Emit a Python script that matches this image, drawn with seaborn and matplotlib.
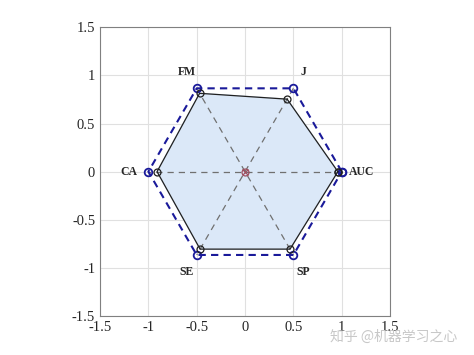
import numpy as np
import pandas as pd
import matplotlib
matplotlib.use('Agg')
import matplotlib.pyplot as plt
import seaborn as sns

# radar data (six metrics on a hexagon)
labels = ['AUC', 'J', 'FM', 'CA', 'SE', 'SP']
angles_deg = [0, 60, 120, 180, 240, 300]
scores = [0.96, 0.87, 0.94, 0.91, 0.93, 0.93]
ideal = [1, 1, 1, 1, 1, 1]

sns.set_style('white')
plt.rcParams['font.family'] = ['Liberation Serif', 'DejaVu Serif']

def to_xy(r):
    a = np.deg2rad(angles_deg)
    x = np.array(r) * np.cos(a)
    y = np.array(r) * np.sin(a)
    # close the polygon
    return np.append(x, x[0]), np.append(y, y[0])

fig = plt.figure(figsize=(4.74, 3.55), dpi=100)
ax = fig.add_axes([0.211, 0.110, 0.612, 0.813])

xs, ys = to_xy(scores)
xi, yi = to_xy(ideal)

ax.fill(xs, ys, color='#dbe8f8', zorder=1)

# spokes through the centre
for k in range(3):
    ax.plot([xi[k], xi[k + 3]], [yi[k], yi[k + 3]], color='#707070', ls=(0, (5, 4)), lw=0.9, zorder=2)

df_s = pd.DataFrame({'x': xs, 'y': ys})
df_i = pd.DataFrame({'x': xi, 'y': yi})
sns.lineplot(data=df_i, x='x', y='y', sort=False, estimator=None, ax=ax, color='#1a1a9a',
             ls=(0, (3.5, 2.5)), lw=1.5, marker='o', markersize=5.5, markerfacecolor='none',
             markeredgecolor='#1a1a9a', markeredgewidth=1.3, zorder=3)
sns.lineplot(data=df_s, x='x', y='y', sort=False, estimator=None, ax=ax, color='#202020',
             lw=0.9, marker='o', markersize=5, markerfacecolor='none',
             markeredgecolor='#202020', markeredgewidth=0.9, zorder=4)

ax.plot(0, 0, marker='o', ms=5, mfc='none', mec='#a05060', mew=0.9, zorder=5)
ax.plot(0, 0, marker='x', ms=5, mec='#a05060', mew=0.9, zorder=5)

for lab, a in zip(labels, angles_deg):
    t = np.deg2rad(a)
    ax.text(1.2 * np.cos(t), 1.2 * np.sin(t), lab, ha='center', va='center',
            fontsize=8.5, fontweight='bold')

ax.set_xlim(-1.5, 1.5)
ax.set_ylim(-1.5, 1.5)
ax.set_xticks(np.arange(-1.5, 1.51, 0.5))
ax.set_yticks(np.arange(-1.5, 1.51, 0.5))
ax.set_xticklabels(['-1.5', '-1', '-0.5', '0', '0.5', '1', '1.5'])
ax.set_yticklabels(['-1.5', '-1', '-0.5', '0', '0.5', '1', '1.5'])
ax.set_xlabel('')
ax.set_ylabel('')
ax.grid(True, color='#e0e0e0', lw=0.8)
ax.set_axisbelow(True)
ax.tick_params(direction='in', length=3, color='#808080', labelsize=10.5, labelcolor='#262626')
for s in ax.spines.values():
    s.set_color('#808080')
    s.set_linewidth(0.8)

fig.text(0.83, 0.052, '知乎 @机器学习之心', fontsize=10, color='#c8c8c8', ha='center', va='center',
         family=['Noto Sans CJK SC', 'DejaVu Sans'])

fig.savefig('out.png', dpi=100, facecolor='white')
